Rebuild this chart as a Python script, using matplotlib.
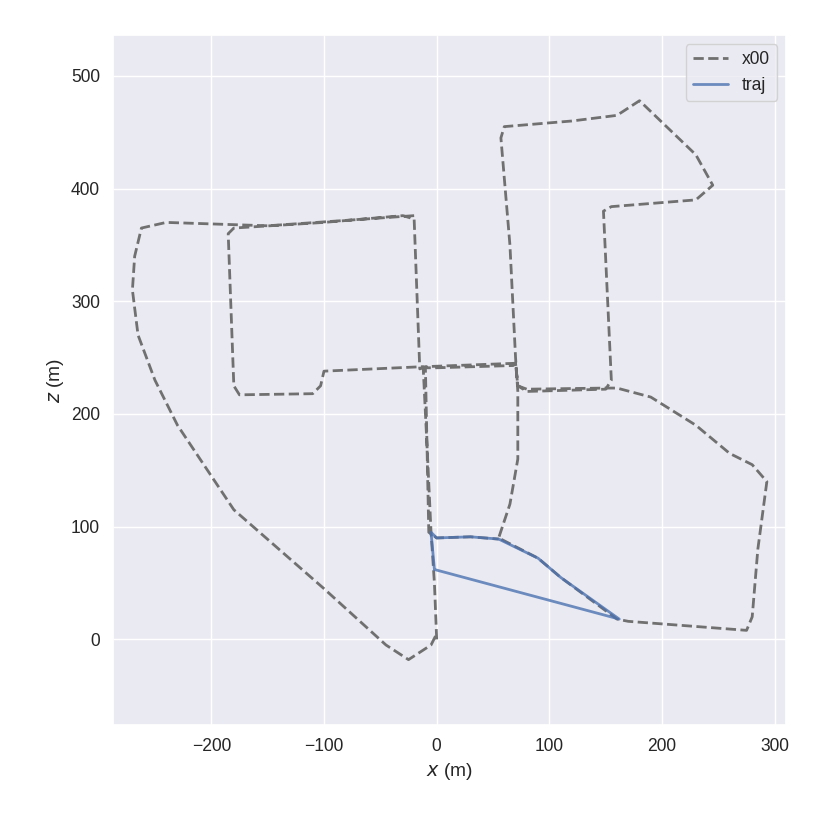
import matplotlib
matplotlib.use("Agg")
import matplotlib.pyplot as plt
import seaborn as sns

sns.set_theme(style="darkgrid", font_scale=1.15)
plt.rcParams["font.family"] = ["Arial", "Liberation Sans", "DejaVu Sans"]

gt_x = [0, -2, -5, -8, -12, -100, -103, -110, -175, -180, -185, -180, -100, -30, -20,
        -15, -10, 70, 72, 80, 150, 155, 148, 155, 230, 245, 230, 180, 160, 120, 60, 57,
        65, 70, 72, 72, 65, 55, 90, 110, 160, 170, 275, 280, 285, 293, 280, 260, 230,
        190, 160, 150, 150, 80, 72, 70, 68, 0, -10, -7, 0, 30, 55,
        None,
        -20, -150, -240, -262, -268, -270, -265, -250, -230, -210, -190, -180, -100, -45,
        -25, -5, 0]
gt_z = [0, 50, 95, 160, 242, 238, 225, 218, 217, 225, 360, 365, 370, 376, 373,
        240, 242, 245, 225, 220, 222, 230, 380, 384, 390, 403, 430, 478, 465, 460, 455, 445,
        350, 250, 220, 160, 120, 90, 72, 55, 18, 16, 8, 20, 80, 140, 155, 165, 190,
        215, 223, 223, 223, 222, 225, 245, 243, 241, 241, 95, 90, 91, 89,
        None,
        376, 367, 370, 365, 340, 310, 270, 230, 190, 160, 130, 115, 45, -5,
        -18, -5, 5]

# estimated trajectory
tr_x = [-2, -5, 0, 30, 55, 90, 110, 162, -2]
tr_z = [62, 95, 90, 91, 89, 72, 55, 18, 62]

fig, ax = plt.subplots(figsize=(8.22, 8.22), dpi=100)
ax.plot(gt_x, gt_z, ls="--", color="#707070", lw=2, label="x00")
ax.plot(tr_x, tr_z, color="#4c72b0", alpha=0.8, lw=2, label="traj")
ax.set_aspect("equal")
ax.set_xlim(-287, 310)
ax.set_ylim(-76, 536)
ax.set_xlabel("$x$ (m)")
ax.set_ylabel("$z$ (m)")
ax.legend(loc="upper right")
fig.subplots_adjust(left=0.137, right=0.957, bottom=0.118, top=0.957)
fig.savefig("out.png")
